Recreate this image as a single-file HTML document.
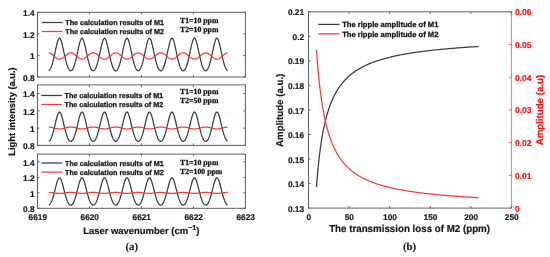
<!DOCTYPE html>
<html><head><meta charset="utf-8"><title>Figure</title>
<style>
html,body{margin:0;padding:0;background:#fff;}
body{width:550px;height:257px;overflow:hidden;}
svg{display:block;}
text{text-rendering:geometricPrecision;font-weight:bold;fill:#1a1a1a;stroke:#1a1a1a;stroke-width:0.3px;}
.s{font-family:"Liberation Sans",Arial,Helvetica,sans-serif;}
.t{stroke-width:0.2px;}
.a{stroke-width:0.2px;}
.r{font-family:"Liberation Serif","Times New Roman",serif;stroke-width:0.3px;}
.p{stroke-width:0.15px;}
</style>
</head><body>
<svg width="550" height="257" viewBox="0 0 550 257">
<rect width="550" height="257" fill="#fff"/>
<rect x="37.5" y="12.3" width="207.90" height="64.70" fill="none" stroke="#606060" stroke-width="1"/>
<line x1="37.50" y1="77.00" x2="37.50" y2="75.00" stroke="#606060" stroke-width="1"/>
<line x1="37.50" y1="12.30" x2="37.50" y2="14.30" stroke="#606060" stroke-width="1"/>
<line x1="89.47" y1="77.00" x2="89.47" y2="75.00" stroke="#606060" stroke-width="1"/>
<line x1="89.47" y1="12.30" x2="89.47" y2="14.30" stroke="#606060" stroke-width="1"/>
<line x1="141.45" y1="77.00" x2="141.45" y2="75.00" stroke="#606060" stroke-width="1"/>
<line x1="141.45" y1="12.30" x2="141.45" y2="14.30" stroke="#606060" stroke-width="1"/>
<line x1="193.43" y1="77.00" x2="193.43" y2="75.00" stroke="#606060" stroke-width="1"/>
<line x1="193.43" y1="12.30" x2="193.43" y2="14.30" stroke="#606060" stroke-width="1"/>
<line x1="245.40" y1="77.00" x2="245.40" y2="75.00" stroke="#606060" stroke-width="1"/>
<line x1="245.40" y1="12.30" x2="245.40" y2="14.30" stroke="#606060" stroke-width="1"/>
<line x1="37.50" y1="77.00" x2="39.50" y2="77.00" stroke="#606060" stroke-width="1"/>
<line x1="245.40" y1="77.00" x2="243.40" y2="77.00" stroke="#606060" stroke-width="1"/>
<text class="s t" x="34.60" y="80.80" font-size="8.3" text-anchor="end" >0.8</text>
<line x1="37.50" y1="55.43" x2="39.50" y2="55.43" stroke="#606060" stroke-width="1"/>
<line x1="245.40" y1="55.43" x2="243.40" y2="55.43" stroke="#606060" stroke-width="1"/>
<text class="s t" x="34.60" y="59.23" font-size="8.3" text-anchor="end" >1</text>
<line x1="37.50" y1="33.87" x2="39.50" y2="33.87" stroke="#606060" stroke-width="1"/>
<line x1="245.40" y1="33.87" x2="243.40" y2="33.87" stroke="#606060" stroke-width="1"/>
<text class="s t" x="34.60" y="37.67" font-size="8.3" text-anchor="end" >1.2</text>
<line x1="37.50" y1="12.30" x2="39.50" y2="12.30" stroke="#606060" stroke-width="1"/>
<line x1="245.40" y1="12.30" x2="243.40" y2="12.30" stroke="#606060" stroke-width="1"/>
<text class="s t" x="34.60" y="16.10" font-size="8.3" text-anchor="end" >1.4</text>
<rect x="37.5" y="84.9" width="207.90" height="60.50" fill="none" stroke="#606060" stroke-width="1"/>
<line x1="37.50" y1="145.40" x2="37.50" y2="143.40" stroke="#606060" stroke-width="1"/>
<line x1="37.50" y1="84.90" x2="37.50" y2="86.90" stroke="#606060" stroke-width="1"/>
<line x1="89.47" y1="145.40" x2="89.47" y2="143.40" stroke="#606060" stroke-width="1"/>
<line x1="89.47" y1="84.90" x2="89.47" y2="86.90" stroke="#606060" stroke-width="1"/>
<line x1="141.45" y1="145.40" x2="141.45" y2="143.40" stroke="#606060" stroke-width="1"/>
<line x1="141.45" y1="84.90" x2="141.45" y2="86.90" stroke="#606060" stroke-width="1"/>
<line x1="193.43" y1="145.40" x2="193.43" y2="143.40" stroke="#606060" stroke-width="1"/>
<line x1="193.43" y1="84.90" x2="193.43" y2="86.90" stroke="#606060" stroke-width="1"/>
<line x1="245.40" y1="145.40" x2="245.40" y2="143.40" stroke="#606060" stroke-width="1"/>
<line x1="245.40" y1="84.90" x2="245.40" y2="86.90" stroke="#606060" stroke-width="1"/>
<line x1="37.50" y1="145.40" x2="39.50" y2="145.40" stroke="#606060" stroke-width="1"/>
<line x1="245.40" y1="145.40" x2="243.40" y2="145.40" stroke="#606060" stroke-width="1"/>
<text class="s t" x="34.60" y="149.20" font-size="8.3" text-anchor="end" >0.8</text>
<line x1="37.50" y1="128.11" x2="39.50" y2="128.11" stroke="#606060" stroke-width="1"/>
<line x1="245.40" y1="128.11" x2="243.40" y2="128.11" stroke="#606060" stroke-width="1"/>
<text class="s t" x="34.60" y="131.91" font-size="8.3" text-anchor="end" >1</text>
<line x1="37.50" y1="110.83" x2="39.50" y2="110.83" stroke="#606060" stroke-width="1"/>
<line x1="245.40" y1="110.83" x2="243.40" y2="110.83" stroke="#606060" stroke-width="1"/>
<text class="s t" x="34.60" y="114.63" font-size="8.3" text-anchor="end" >1.2</text>
<line x1="37.50" y1="93.54" x2="39.50" y2="93.54" stroke="#606060" stroke-width="1"/>
<line x1="245.40" y1="93.54" x2="243.40" y2="93.54" stroke="#606060" stroke-width="1"/>
<text class="s t" x="34.60" y="97.34" font-size="8.3" text-anchor="end" >1.4</text>
<rect x="37.5" y="154.1" width="207.90" height="54.20" fill="none" stroke="#606060" stroke-width="1"/>
<line x1="37.50" y1="208.30" x2="37.50" y2="206.30" stroke="#606060" stroke-width="1"/>
<line x1="37.50" y1="154.10" x2="37.50" y2="156.10" stroke="#606060" stroke-width="1"/>
<line x1="89.47" y1="208.30" x2="89.47" y2="206.30" stroke="#606060" stroke-width="1"/>
<line x1="89.47" y1="154.10" x2="89.47" y2="156.10" stroke="#606060" stroke-width="1"/>
<line x1="141.45" y1="208.30" x2="141.45" y2="206.30" stroke="#606060" stroke-width="1"/>
<line x1="141.45" y1="154.10" x2="141.45" y2="156.10" stroke="#606060" stroke-width="1"/>
<line x1="193.43" y1="208.30" x2="193.43" y2="206.30" stroke="#606060" stroke-width="1"/>
<line x1="193.43" y1="154.10" x2="193.43" y2="156.10" stroke="#606060" stroke-width="1"/>
<line x1="245.40" y1="208.30" x2="245.40" y2="206.30" stroke="#606060" stroke-width="1"/>
<line x1="245.40" y1="154.10" x2="245.40" y2="156.10" stroke="#606060" stroke-width="1"/>
<line x1="37.50" y1="208.30" x2="39.50" y2="208.30" stroke="#606060" stroke-width="1"/>
<line x1="245.40" y1="208.30" x2="243.40" y2="208.30" stroke="#606060" stroke-width="1"/>
<text class="s t" x="34.60" y="212.10" font-size="8.3" text-anchor="end" >0.8</text>
<line x1="37.50" y1="192.81" x2="39.50" y2="192.81" stroke="#606060" stroke-width="1"/>
<line x1="245.40" y1="192.81" x2="243.40" y2="192.81" stroke="#606060" stroke-width="1"/>
<text class="s t" x="34.60" y="196.61" font-size="8.3" text-anchor="end" >1</text>
<line x1="37.50" y1="177.33" x2="39.50" y2="177.33" stroke="#606060" stroke-width="1"/>
<line x1="245.40" y1="177.33" x2="243.40" y2="177.33" stroke="#606060" stroke-width="1"/>
<text class="s t" x="34.60" y="181.13" font-size="8.3" text-anchor="end" >1.2</text>
<line x1="37.50" y1="161.84" x2="39.50" y2="161.84" stroke="#606060" stroke-width="1"/>
<line x1="245.40" y1="161.84" x2="243.40" y2="161.84" stroke="#606060" stroke-width="1"/>
<text class="s t" x="34.60" y="165.64" font-size="8.3" text-anchor="end" >1.4</text>
<polyline points="48.80,70.67 49.25,70.38 49.70,69.92 50.14,69.29 50.59,68.48 51.04,67.51 51.49,66.38 51.94,65.08 52.38,63.62 52.83,62.02 53.28,60.27 53.73,58.40 54.18,56.43 54.63,54.37 55.07,52.27 55.52,50.15 55.97,48.05 56.42,46.03 56.87,44.14 57.31,42.43 57.76,40.95 58.21,39.74 58.66,38.87 59.11,38.35 59.55,38.20 60.00,38.44 60.45,39.05 60.90,40.01 61.35,41.28 61.80,42.83 62.24,44.59 62.69,46.52 63.14,48.56 63.59,50.67 64.04,52.79 64.48,54.88 64.93,56.92 65.38,58.87 65.83,60.71 66.28,62.42 66.72,63.99 67.17,65.41 67.62,66.67 68.07,67.77 68.52,68.70 68.97,69.46 69.41,70.05 69.86,70.47 70.31,70.72 70.76,70.80 71.21,70.71 71.65,70.45 72.10,70.02 72.55,69.42 73.00,68.65 73.45,67.71 73.89,66.60 74.34,65.33 74.79,63.91 75.24,62.33 75.69,60.61 76.14,58.76 76.58,56.80 77.03,54.76 77.48,52.66 77.93,50.54 78.38,48.44 78.82,46.41 79.27,44.48 79.72,42.73 80.17,41.20 80.62,39.95 81.06,39.01 81.51,38.42 81.96,38.20 82.41,38.37 82.86,38.91 83.31,39.81 83.75,41.02 84.20,42.52 84.65,44.25 85.10,46.15 85.55,48.17 85.99,50.27 86.44,52.39 86.89,54.49 87.34,56.54 87.79,58.51 88.23,60.38 88.68,62.11 89.13,63.71 89.58,65.16 90.03,66.45 90.48,67.57 90.92,68.54 91.37,69.33 91.82,69.95 92.27,70.40 92.72,70.69 93.16,70.80 93.61,70.74 94.06,70.51 94.51,70.11 94.96,69.54 95.40,68.81 95.85,67.90 96.30,66.82 96.75,65.58 97.20,64.19 97.65,62.64 98.09,60.94 98.54,59.12 98.99,57.18 99.44,55.15 99.89,53.06 100.33,50.94 100.78,48.83 101.23,46.78 101.68,44.83 102.13,43.05 102.57,41.47 103.02,40.16 103.47,39.16 103.92,38.50 104.37,38.21 104.82,38.31 105.26,38.78 105.71,39.61 106.16,40.77 106.61,42.22 107.06,43.91 107.50,45.78 107.95,47.79 108.40,49.87 108.85,51.99 109.30,54.10 109.74,56.17 110.19,58.15 110.64,60.04 111.09,61.80 111.54,63.42 111.98,64.90 112.43,66.22 112.88,67.38 113.33,68.37 113.78,69.19 114.23,69.85 114.67,70.33 115.12,70.65 115.57,70.79 116.02,70.76 116.47,70.57 116.91,70.20 117.36,69.66 117.81,68.96 118.26,68.08 118.71,67.04 119.15,65.83 119.60,64.46 120.05,62.94 120.50,61.27 120.95,59.47 121.40,57.55 121.84,55.54 122.29,53.46 122.74,51.34 123.19,49.22 123.64,47.16 124.08,45.19 124.53,43.37 124.98,41.75 125.43,40.38 125.88,39.32 126.32,38.59 126.77,38.24 127.22,38.26 127.67,38.66 128.12,39.43 128.57,40.53 129.01,41.93 129.46,43.58 129.91,45.42 130.36,47.40 130.81,49.48 131.25,51.59 131.70,53.71 132.15,55.78 132.60,57.79 133.05,59.69 133.49,61.48 133.94,63.13 134.39,64.63 134.84,65.98 135.29,67.17 135.74,68.20 136.18,69.05 136.63,69.74 137.08,70.25 137.53,70.60 137.98,70.78 138.42,70.78 138.87,70.62 139.32,70.28 139.77,69.78 140.22,69.10 140.66,68.26 141.11,67.25 141.56,66.07 142.01,64.73 142.46,63.23 142.91,61.59 143.35,59.81 143.80,57.92 144.25,55.92 144.70,53.85 145.15,51.74 145.59,49.62 146.04,47.54 146.49,45.55 146.94,43.69 147.39,42.03 147.83,40.62 148.28,39.49 148.73,38.70 149.18,38.28 149.63,38.23 150.08,38.56 150.52,39.26 150.97,40.30 151.42,41.65 151.87,43.25 152.32,45.06 152.76,47.02 153.21,49.08 153.66,51.20 154.11,53.31 154.56,55.40 155.00,57.42 155.45,59.34 155.90,61.15 156.35,62.83 156.80,64.36 157.25,65.74 157.69,66.96 158.14,68.02 158.59,68.90 159.04,69.62 159.49,70.17 159.93,70.55 160.38,70.76 160.83,70.79 161.28,70.66 161.73,70.36 162.17,69.88 162.62,69.24 163.07,68.43 163.52,67.45 163.97,66.30 164.42,64.99 164.86,63.53 165.31,61.91 165.76,60.16 166.21,58.28 166.66,56.30 167.10,54.24 167.55,52.13 168.00,50.01 168.45,47.92 168.90,45.91 169.34,44.03 169.79,42.33 170.24,40.86 170.69,39.68 171.14,38.82 171.58,38.33 172.03,38.21 172.48,38.47 172.93,39.10 173.38,40.08 173.83,41.37 174.27,42.93 174.72,44.71 175.17,46.65 175.62,48.69 176.07,50.80 176.51,52.92 176.96,55.01 177.41,57.05 177.86,58.99 178.31,60.82 178.75,62.53 179.20,64.09 179.65,65.50 180.10,66.75 180.55,67.83 181.00,68.75 181.44,69.50 181.89,70.08 182.34,70.49 182.79,70.73 183.24,70.80 183.68,70.70 184.13,70.43 184.58,69.99 185.03,69.37 185.48,68.59 185.92,67.64 186.37,66.53 186.82,65.25 187.27,63.81 187.72,62.22 188.17,60.50 188.61,58.64 189.06,56.68 189.51,54.63 189.96,52.53 190.41,50.41 190.85,48.31 191.30,46.28 191.75,44.37 192.20,42.63 192.65,41.12 193.09,39.88 193.54,38.96 193.99,38.39 194.44,38.20 194.89,38.39 195.34,38.96 195.78,39.87 196.23,41.11 196.68,42.62 197.13,44.36 197.58,46.27 198.02,48.30 198.47,50.40 198.92,52.52 199.37,54.62 199.82,56.67 200.26,58.63 200.71,60.49 201.16,62.22 201.61,63.81 202.06,65.24 202.51,66.52 202.95,67.64 203.40,68.59 203.85,69.37 204.30,69.98 204.75,70.43 205.19,70.70 205.64,70.80 206.09,70.73 206.54,70.49 206.99,70.08 207.43,69.50 207.88,68.75 208.33,67.84 208.78,66.75 209.23,65.50 209.68,64.09 210.12,62.53 210.57,60.83 211.02,59.00 211.47,57.05 211.92,55.02 212.36,52.93 212.81,50.81 213.26,48.70 213.71,46.65 214.16,44.72 214.60,42.94 215.05,41.38 215.50,40.09 215.95,39.10 216.40,38.47 216.85,38.21 217.29,38.33 217.74,38.82 218.19,39.68 218.64,40.86 219.09,42.32 219.53,44.02 219.98,45.90 220.43,47.92 220.88,50.01 221.33,52.13 221.77,54.23 222.22,56.29 222.67,58.27 223.12,60.15 223.57,61.90 224.02,63.52 224.46,64.99 224.91,66.30 225.36,67.44 225.81,68.42 226.26,69.24 226.70,69.88 227.15,70.36 227.60,70.66" fill="none" stroke="#3c3c3c" stroke-width="1.25" stroke-linejoin="round"/>
<polyline points="48.80,52.84 49.25,52.92 49.70,53.06 50.14,53.24 50.59,53.46 51.04,53.72 51.49,54.02 51.94,54.35 52.38,54.70 52.83,55.08 53.28,55.47 53.73,55.87 54.18,56.27 54.63,56.66 55.07,57.05 55.52,57.42 55.97,57.77 56.42,58.09 56.87,58.37 57.31,58.62 57.76,58.83 58.21,58.99 58.66,59.11 59.11,59.18 59.55,59.20 60.00,59.17 60.45,59.09 60.90,58.96 61.35,58.78 61.80,58.56 62.24,58.31 62.69,58.01 63.14,57.68 63.59,57.33 64.04,56.96 64.48,56.57 64.93,56.17 65.38,55.77 65.83,55.37 66.28,54.99 66.72,54.61 67.17,54.27 67.62,53.94 68.07,53.65 68.52,53.40 68.97,53.19 69.41,53.02 69.86,52.90 70.31,52.82 70.76,52.80 71.21,52.83 71.65,52.90 72.10,53.03 72.55,53.20 73.00,53.41 73.45,53.67 73.89,53.96 74.34,54.28 74.79,54.64 75.24,55.01 75.69,55.40 76.14,55.79 76.58,56.19 77.03,56.59 77.48,56.98 77.93,57.35 78.38,57.70 78.82,58.03 79.27,58.32 79.72,58.58 80.17,58.79 80.62,58.97 81.06,59.09 81.51,59.17 81.96,59.20 82.41,59.18 82.86,59.11 83.31,58.99 83.75,58.82 84.20,58.61 84.65,58.36 85.10,58.07 85.55,57.75 85.99,57.40 86.44,57.03 86.89,56.64 87.34,56.24 87.79,55.84 88.23,55.45 88.68,55.06 89.13,54.68 89.58,54.33 90.03,54.00 90.48,53.70 90.92,53.44 91.37,53.22 91.82,53.05 92.27,52.92 92.72,52.83 93.16,52.80 93.61,52.82 94.06,52.88 94.51,53.00 94.96,53.16 95.40,53.37 95.85,53.62 96.30,53.90 96.75,54.22 97.20,54.57 97.65,54.94 98.09,55.32 98.54,55.72 98.99,56.12 99.44,56.52 99.89,56.91 100.33,57.28 100.78,57.64 101.23,57.97 101.68,58.27 102.13,58.53 102.57,58.76 103.02,58.94 103.47,59.07 103.92,59.16 104.37,59.20 104.82,59.19 105.26,59.12 105.71,59.01 106.16,58.85 106.61,58.65 107.06,58.41 107.50,58.12 107.95,57.81 108.40,57.47 108.85,57.10 109.30,56.71 109.74,56.32 110.19,55.92 110.64,55.52 111.09,55.13 111.54,54.75 111.98,54.39 112.43,54.06 112.88,53.76 113.33,53.49 113.78,53.26 114.23,53.08 114.67,52.94 115.12,52.85 115.57,52.80 116.02,52.81 116.47,52.87 116.91,52.98 117.36,53.13 117.81,53.33 118.26,53.57 118.71,53.85 119.15,54.16 119.60,54.50 120.05,54.87 120.50,55.25 120.95,55.64 121.40,56.04 121.84,56.44 122.29,56.83 122.74,57.21 123.19,57.57 123.64,57.91 124.08,58.22 124.53,58.49 124.98,58.72 125.43,58.91 125.88,59.05 126.32,59.15 126.77,59.20 127.22,59.19 127.67,59.14 128.12,59.04 128.57,58.89 129.01,58.69 129.46,58.46 129.91,58.18 130.36,57.87 130.81,57.53 131.25,57.17 131.70,56.79 132.15,56.39 132.60,55.99 133.05,55.60 133.49,55.20 133.94,54.82 134.39,54.46 134.84,54.12 135.29,53.81 135.74,53.54 136.18,53.30 136.63,53.11 137.08,52.96 137.53,52.86 137.98,52.81 138.42,52.81 138.87,52.85 139.32,52.95 139.77,53.10 140.22,53.29 140.66,53.52 141.11,53.79 141.56,54.10 142.01,54.44 142.46,54.80 142.91,55.18 143.35,55.57 143.80,55.97 144.25,56.37 144.70,56.76 145.15,57.14 145.59,57.51 146.04,57.85 146.49,58.16 146.94,58.44 147.39,58.68 147.83,58.88 148.28,59.03 148.73,59.13 149.18,59.19 149.63,59.20 150.08,59.15 150.52,59.06 150.97,58.92 151.42,58.73 151.87,58.50 152.32,58.23 152.76,57.93 153.21,57.60 153.66,57.24 154.11,56.86 154.56,56.47 155.00,56.07 155.45,55.67 155.90,55.27 156.35,54.89 156.80,54.53 157.25,54.18 157.69,53.87 158.14,53.59 158.59,53.34 159.04,53.14 159.49,52.98 159.93,52.87 160.38,52.81 160.83,52.80 161.28,52.84 161.73,52.93 162.17,53.07 162.62,53.25 163.07,53.47 163.52,53.74 163.97,54.04 164.42,54.37 164.86,54.73 165.31,55.10 165.76,55.49 166.21,55.89 166.66,56.29 167.10,56.69 167.55,57.07 168.00,57.44 168.45,57.79 168.90,58.10 169.34,58.39 169.79,58.64 170.24,58.84 170.69,59.00 171.14,59.12 171.58,59.18 172.03,59.20 172.48,59.16 172.93,59.08 173.38,58.95 173.83,58.77 174.27,58.55 174.72,58.29 175.17,57.99 175.62,57.66 176.07,57.31 176.51,56.93 176.96,56.54 177.41,56.14 177.86,55.74 178.31,55.35 178.75,54.96 179.20,54.59 179.65,54.24 180.10,53.92 180.55,53.64 181.00,53.39 181.44,53.18 181.89,53.01 182.34,52.89 182.79,52.82 183.24,52.80 183.68,52.83 184.13,52.91 184.58,53.04 185.03,53.21 185.48,53.43 185.92,53.69 186.37,53.98 186.82,54.31 187.27,54.66 187.72,55.03 188.17,55.42 188.61,55.82 189.06,56.22 189.51,56.62 189.96,57.00 190.41,57.37 190.85,57.72 191.30,58.05 191.75,58.34 192.20,58.59 192.65,58.81 193.09,58.98 193.54,59.10 193.99,59.17 194.44,59.20 194.89,59.18 195.34,59.10 195.78,58.98 196.23,58.81 196.68,58.59 197.13,58.34 197.58,58.05 198.02,57.73 198.47,57.38 198.92,57.00 199.37,56.62 199.82,56.22 200.26,55.82 200.71,55.42 201.16,55.03 201.61,54.66 202.06,54.31 202.51,53.98 202.95,53.69 203.40,53.43 203.85,53.21 204.30,53.04 204.75,52.91 205.19,52.83 205.64,52.80 206.09,52.82 206.54,52.89 206.99,53.01 207.43,53.17 207.88,53.38 208.33,53.64 208.78,53.92 209.23,54.24 209.68,54.59 210.12,54.96 210.57,55.35 211.02,55.74 211.47,56.14 211.92,56.54 212.36,56.93 212.81,57.31 213.26,57.66 213.71,57.99 214.16,58.29 214.60,58.55 215.05,58.77 215.50,58.95 215.95,59.08 216.40,59.16 216.85,59.20 217.29,59.18 217.74,59.12 218.19,59.00 218.64,58.84 219.09,58.64 219.53,58.39 219.98,58.11 220.43,57.79 220.88,57.44 221.33,57.07 221.77,56.69 222.22,56.29 222.67,55.89 223.12,55.50 223.57,55.11 224.02,54.73 224.46,54.37 224.91,54.04 225.36,53.74 225.81,53.47 226.26,53.25 226.70,53.07 227.15,52.93 227.60,52.84" fill="none" stroke="#f33b3b" stroke-width="1.25" stroke-linejoin="round"/>
<polyline points="48.80,141.29 49.25,141.02 49.70,140.61 50.14,140.04 50.59,139.31 51.04,138.44 51.49,137.41 51.94,136.24 52.38,134.93 52.83,133.48 53.28,131.90 53.73,130.22 54.18,128.44 54.63,126.59 55.07,124.69 55.52,122.77 55.97,120.89 56.42,119.07 56.87,117.36 57.31,115.81 57.76,114.48 58.21,113.39 58.66,112.60 59.11,112.13 59.55,112.00 60.00,112.22 60.45,112.77 60.90,113.63 61.35,114.78 61.80,116.17 62.24,117.76 62.69,119.50 63.14,121.34 63.59,123.24 64.04,125.15 64.48,127.04 64.93,128.88 65.38,130.64 65.83,132.30 66.28,133.85 66.72,135.26 67.17,136.54 67.62,137.68 68.07,138.67 68.52,139.50 68.97,140.19 69.41,140.72 69.86,141.10 70.31,141.33 70.76,141.40 71.21,141.32 71.65,141.08 72.10,140.70 72.55,140.15 73.00,139.46 73.45,138.61 73.89,137.62 74.34,136.47 74.79,135.18 75.24,133.76 75.69,132.21 76.14,130.54 76.58,128.78 77.03,126.94 77.48,125.04 77.93,123.13 78.38,121.24 78.82,119.40 79.27,117.67 79.72,116.09 80.17,114.71 80.62,113.57 81.06,112.73 81.51,112.20 81.96,112.00 82.41,112.15 82.86,112.64 83.31,113.45 83.75,114.55 84.20,115.90 84.65,117.45 85.10,119.17 85.55,120.99 85.99,122.88 86.44,124.80 86.89,126.69 87.34,128.54 87.79,130.32 88.23,132.00 88.68,133.57 89.13,135.01 89.58,136.31 90.03,137.48 90.48,138.49 90.92,139.36 91.37,140.07 91.82,140.63 92.27,141.04 92.72,141.30 93.16,141.40 93.61,141.35 94.06,141.14 94.51,140.78 94.96,140.27 95.40,139.60 95.85,138.78 96.30,137.81 96.75,136.70 97.20,135.44 97.65,134.04 98.09,132.51 98.54,130.86 98.99,129.12 99.44,127.29 99.89,125.40 100.33,123.49 100.78,121.59 101.23,119.74 101.68,117.98 102.13,116.37 102.57,114.95 103.02,113.77 103.47,112.86 103.92,112.27 104.37,112.01 104.82,112.10 105.26,112.52 105.71,113.27 106.16,114.32 106.61,115.63 107.06,117.15 107.50,118.84 107.95,120.65 108.40,122.53 108.85,124.44 109.30,126.34 109.74,128.20 110.19,129.99 110.64,131.69 111.09,133.28 111.54,134.75 111.98,136.08 112.43,137.27 112.88,138.31 113.33,139.21 113.78,139.95 114.23,140.54 114.67,140.98 115.12,141.26 115.57,141.39 116.02,141.37 116.47,141.19 116.91,140.86 117.36,140.37 117.81,139.74 118.26,138.95 118.71,138.01 119.15,136.92 119.60,135.68 120.05,134.31 120.50,132.80 120.95,131.18 121.40,129.45 121.84,127.63 122.29,125.76 122.74,123.85 123.19,121.94 123.64,120.08 124.08,118.30 124.53,116.66 124.98,115.20 125.43,113.97 125.88,113.01 126.32,112.36 126.77,112.03 127.22,112.05 127.67,112.42 128.12,113.11 128.57,114.10 129.01,115.36 129.46,116.85 129.91,118.51 130.36,120.30 130.81,122.17 131.25,124.08 131.70,125.99 132.15,127.86 132.60,129.66 133.05,131.38 133.49,132.99 133.94,134.48 134.39,135.84 134.84,137.06 135.29,138.13 135.74,139.05 136.18,139.82 136.63,140.44 137.08,140.91 137.53,141.22 137.98,141.38 138.42,141.38 138.87,141.23 139.32,140.93 139.77,140.48 140.22,139.87 140.66,139.11 141.11,138.19 141.56,137.13 142.01,135.92 142.46,134.58 142.91,133.10 143.35,131.49 143.80,129.78 144.25,127.98 144.70,126.11 145.15,124.21 145.59,122.30 146.04,120.42 146.49,118.63 146.94,116.95 147.39,115.46 147.83,114.18 148.28,113.17 148.73,112.45 149.18,112.07 149.63,112.02 150.08,112.32 150.52,112.96 150.97,113.90 151.42,115.11 151.87,116.55 152.32,118.19 152.76,119.96 153.21,121.82 153.66,123.72 154.11,125.63 154.56,127.51 155.00,129.33 155.45,131.07 155.90,132.70 156.35,134.21 156.80,135.60 157.25,136.84 157.69,137.94 158.14,138.89 158.59,139.69 159.04,140.34 159.49,140.83 159.93,141.17 160.38,141.36 160.83,141.39 161.28,141.27 161.73,141.00 162.17,140.57 162.62,139.99 163.07,139.26 163.52,138.38 163.97,137.34 164.42,136.16 164.86,134.84 165.31,133.38 165.76,131.80 166.21,130.11 166.66,128.32 167.10,126.47 167.55,124.57 168.00,122.65 168.45,120.77 168.90,118.95 169.34,117.26 169.79,115.72 170.24,114.40 170.69,113.33 171.14,112.56 171.58,112.11 172.03,112.01 172.48,112.24 172.93,112.81 173.38,113.70 173.83,114.86 174.27,116.27 174.72,117.87 175.17,119.62 175.62,121.46 176.07,123.36 176.51,125.27 176.96,127.16 177.41,129.00 177.86,130.75 178.31,132.40 178.75,133.94 179.20,135.35 179.65,136.62 180.10,137.74 180.55,138.72 181.00,139.55 181.44,140.23 181.89,140.75 182.34,141.12 182.79,141.34 183.24,141.40 183.68,141.31 184.13,141.06 184.58,140.67 185.03,140.11 185.48,139.41 185.92,138.55 186.37,137.55 186.82,136.39 187.27,135.10 187.72,133.67 188.17,132.11 188.61,130.43 189.06,128.66 189.51,126.82 189.96,124.92 190.41,123.01 190.85,121.12 191.30,119.29 191.75,117.56 192.20,115.99 192.65,114.63 193.09,113.51 193.54,112.68 193.99,112.17 194.44,112.00 194.89,112.17 195.34,112.68 195.78,113.51 196.23,114.62 196.68,115.99 197.13,117.56 197.58,119.28 198.02,121.11 198.47,123.00 198.92,124.92 199.37,126.81 199.82,128.66 200.26,130.43 200.71,132.10 201.16,133.66 201.61,135.09 202.06,136.39 202.51,137.54 202.95,138.55 203.40,139.41 203.85,140.11 204.30,140.66 204.75,141.06 205.19,141.31 205.64,141.40 206.09,141.34 206.54,141.12 206.99,140.75 207.43,140.23 207.88,139.55 208.33,138.73 208.78,137.75 209.23,136.62 209.68,135.35 210.12,133.94 210.57,132.41 211.02,130.76 211.47,129.00 211.92,127.17 212.36,125.28 212.81,123.37 213.26,121.47 213.71,119.62 214.16,117.88 214.60,116.27 215.05,114.87 215.50,113.70 215.95,112.82 216.40,112.24 216.85,112.01 217.29,112.11 217.74,112.56 218.19,113.33 218.64,114.40 219.09,115.72 219.53,117.25 219.98,118.95 220.43,120.76 220.88,122.65 221.33,124.56 221.77,126.46 222.22,128.32 222.67,130.10 223.12,131.80 223.57,133.38 224.02,134.83 224.46,136.16 224.91,137.34 225.36,138.37 225.81,139.26 226.26,139.99 226.70,140.57 227.15,141.00 227.60,141.27" fill="none" stroke="#3c3c3c" stroke-width="1.25" stroke-linejoin="round"/>
<polyline points="48.80,127.01 49.25,127.04 49.70,127.08 50.14,127.14 50.59,127.21 51.04,127.29 51.49,127.38 51.94,127.48 52.38,127.59 52.83,127.71 53.28,127.83 53.73,127.96 54.18,128.08 54.63,128.21 55.07,128.33 55.52,128.44 55.97,128.55 56.42,128.65 56.87,128.74 57.31,128.82 57.76,128.88 58.21,128.94 58.66,128.97 59.11,128.99 59.55,129.00 60.00,128.99 60.45,128.96 60.90,128.92 61.35,128.87 61.80,128.80 62.24,128.72 62.69,128.63 63.14,128.53 63.59,128.42 64.04,128.30 64.48,128.18 64.93,128.05 65.38,127.93 65.83,127.80 66.28,127.68 66.72,127.57 67.17,127.46 67.62,127.36 68.07,127.27 68.52,127.19 68.97,127.12 69.41,127.07 69.86,127.03 70.31,127.01 70.76,127.00 71.21,127.01 71.65,127.03 72.10,127.07 72.55,127.12 73.00,127.19 73.45,127.27 73.89,127.36 74.34,127.46 74.79,127.57 75.24,127.69 75.69,127.81 76.14,127.94 76.58,128.06 77.03,128.18 77.48,128.31 77.93,128.42 78.38,128.53 78.82,128.63 79.27,128.73 79.72,128.81 80.17,128.87 80.62,128.93 81.06,128.97 81.51,128.99 81.96,129.00 82.41,128.99 82.86,128.97 83.31,128.93 83.75,128.88 84.20,128.82 84.65,128.74 85.10,128.65 85.55,128.55 85.99,128.44 86.44,128.32 86.89,128.20 87.34,128.08 87.79,127.95 88.23,127.83 88.68,127.71 89.13,127.59 89.58,127.48 90.03,127.38 90.48,127.28 90.92,127.20 91.37,127.13 91.82,127.08 92.27,127.04 92.72,127.01 93.16,127.00 93.61,127.01 94.06,127.03 94.51,127.06 94.96,127.11 95.40,127.18 95.85,127.26 96.30,127.34 96.75,127.44 97.20,127.55 97.65,127.67 98.09,127.79 98.54,127.91 98.99,128.04 99.44,128.16 99.89,128.28 100.33,128.40 100.78,128.51 101.23,128.62 101.68,128.71 102.13,128.79 102.57,128.86 103.02,128.92 103.47,128.96 103.92,128.99 104.37,129.00 104.82,129.00 105.26,128.98 105.71,128.94 106.16,128.89 106.61,128.83 107.06,128.75 107.50,128.66 107.95,128.57 108.40,128.46 108.85,128.34 109.30,128.22 109.74,128.10 110.19,127.97 110.64,127.85 111.09,127.73 111.54,127.61 111.98,127.50 112.43,127.39 112.88,127.30 113.33,127.22 113.78,127.14 114.23,127.09 114.67,127.04 115.12,127.01 115.57,127.00 116.02,127.00 116.47,127.02 116.91,127.05 117.36,127.10 117.81,127.16 118.26,127.24 118.71,127.33 119.15,127.43 119.60,127.53 120.05,127.65 120.50,127.77 120.95,127.89 121.40,128.01 121.84,128.14 122.29,128.26 122.74,128.38 123.19,128.49 123.64,128.60 124.08,128.69 124.53,128.78 124.98,128.85 125.43,128.91 125.88,128.95 126.32,128.98 126.77,129.00 127.22,129.00 127.67,128.98 128.12,128.95 128.57,128.90 129.01,128.84 129.46,128.77 129.91,128.68 130.36,128.58 130.81,128.48 131.25,128.37 131.70,128.25 132.15,128.12 132.60,128.00 133.05,127.87 133.49,127.75 133.94,127.63 134.39,127.52 134.84,127.41 135.29,127.32 135.74,127.23 136.18,127.16 136.63,127.10 137.08,127.05 137.53,127.02 137.98,127.00 138.42,127.00 138.87,127.02 139.32,127.05 139.77,127.09 140.22,127.15 140.66,127.23 141.11,127.31 141.56,127.41 142.01,127.51 142.46,127.62 142.91,127.74 143.35,127.87 143.80,127.99 144.25,128.11 144.70,128.24 145.15,128.36 145.59,128.47 146.04,128.58 146.49,128.68 146.94,128.76 147.39,128.84 147.83,128.90 148.28,128.95 148.73,128.98 149.18,129.00 149.63,129.00 150.08,128.99 150.52,128.96 150.97,128.91 151.42,128.85 151.87,128.78 152.32,128.70 152.76,128.60 153.21,128.50 153.66,128.39 154.11,128.27 154.56,128.15 155.00,128.02 155.45,127.90 155.90,127.77 156.35,127.65 156.80,127.54 157.25,127.43 157.69,127.33 158.14,127.25 158.59,127.17 159.04,127.11 159.49,127.06 159.93,127.02 160.38,127.00 160.83,127.00 161.28,127.01 161.73,127.04 162.17,127.08 162.62,127.14 163.07,127.21 163.52,127.29 163.97,127.39 164.42,127.49 164.86,127.60 165.31,127.72 165.76,127.84 166.21,127.97 166.66,128.09 167.10,128.22 167.55,128.34 168.00,128.45 168.45,128.56 168.90,128.66 169.34,128.75 169.79,128.82 170.24,128.89 170.69,128.94 171.14,128.97 171.58,128.99 172.03,129.00 172.48,128.99 172.93,128.96 173.38,128.92 173.83,128.87 174.27,128.80 174.72,128.71 175.17,128.62 175.62,128.52 176.07,128.41 176.51,128.29 176.96,128.17 177.41,128.05 177.86,127.92 178.31,127.80 178.75,127.68 179.20,127.56 179.65,127.45 180.10,127.35 180.55,127.26 181.00,127.18 181.44,127.12 181.89,127.07 182.34,127.03 182.79,127.01 183.24,127.00 183.68,127.01 184.13,127.03 184.58,127.07 185.03,127.13 185.48,127.20 185.92,127.28 186.37,127.37 186.82,127.47 187.27,127.58 187.72,127.70 188.17,127.82 188.61,127.94 189.06,128.07 189.51,128.19 189.96,128.31 190.41,128.43 190.85,128.54 191.30,128.64 191.75,128.73 192.20,128.81 192.65,128.88 193.09,128.93 193.54,128.97 193.99,128.99 194.44,129.00 194.89,128.99 195.34,128.97 195.78,128.93 196.23,128.88 196.68,128.81 197.13,128.73 197.58,128.64 198.02,128.54 198.47,128.43 198.92,128.31 199.37,128.19 199.82,128.07 200.26,127.94 200.71,127.82 201.16,127.70 201.61,127.58 202.06,127.47 202.51,127.37 202.95,127.28 203.40,127.20 203.85,127.13 204.30,127.07 204.75,127.03 205.19,127.01 205.64,127.00 206.09,127.01 206.54,127.03 206.99,127.07 207.43,127.12 207.88,127.18 208.33,127.26 208.78,127.35 209.23,127.45 209.68,127.56 210.12,127.68 210.57,127.80 211.02,127.92 211.47,128.04 211.92,128.17 212.36,128.29 212.81,128.41 213.26,128.52 213.71,128.62 214.16,128.71 214.60,128.80 215.05,128.87 215.50,128.92 215.95,128.96 216.40,128.99 216.85,129.00 217.29,128.99 217.74,128.97 218.19,128.94 218.64,128.89 219.09,128.82 219.53,128.75 219.98,128.66 220.43,128.56 220.88,128.45 221.33,128.34 221.77,128.22 222.22,128.09 222.67,127.97 223.12,127.84 223.57,127.72 224.02,127.60 224.46,127.49 224.91,127.39 225.36,127.29 225.81,127.21 226.26,127.14 226.70,127.08 227.15,127.04 227.60,127.01" fill="none" stroke="#f33b3b" stroke-width="1.25" stroke-linejoin="round"/>
<polyline points="48.80,205.09 49.25,204.85 49.70,204.46 50.14,203.93 50.59,203.25 51.04,202.44 51.49,201.48 51.94,200.39 52.38,199.17 52.83,197.82 53.28,196.35 53.73,194.78 54.18,193.12 54.63,191.39 55.07,189.62 55.52,187.84 55.97,186.08 56.42,184.38 56.87,182.79 57.31,181.35 57.76,180.11 58.21,179.10 58.66,178.36 59.11,177.92 59.55,177.80 60.00,178.00 60.45,178.51 60.90,179.32 61.35,180.39 61.80,181.69 62.24,183.17 62.69,184.79 63.14,186.51 63.59,188.28 64.04,190.06 64.48,191.82 64.93,193.53 65.38,195.17 65.83,196.72 66.28,198.16 66.72,199.48 67.17,200.67 67.62,201.73 68.07,202.65 68.52,203.43 68.97,204.07 69.41,204.57 69.86,204.92 70.31,205.13 70.76,205.20 71.21,205.12 71.65,204.91 72.10,204.54 72.55,204.04 73.00,203.39 73.45,202.60 73.89,201.67 74.34,200.61 74.79,199.41 75.24,198.08 75.69,196.63 76.14,195.08 76.58,193.44 77.03,191.72 77.48,189.96 77.93,188.17 78.38,186.41 78.82,184.70 79.27,183.08 79.72,181.61 80.17,180.32 80.62,179.27 81.06,178.48 81.51,177.98 81.96,177.80 82.41,177.94 82.86,178.40 83.31,179.15 83.75,180.17 84.20,181.43 84.65,182.88 85.10,184.48 85.55,186.18 85.99,187.94 86.44,189.73 86.89,191.49 87.34,193.22 87.79,194.87 88.23,196.44 88.68,197.90 89.13,199.24 89.58,200.46 90.03,201.54 90.48,202.49 90.92,203.30 91.37,203.96 91.82,204.49 92.27,204.87 92.72,205.10 93.16,205.20 93.61,205.15 94.06,204.96 94.51,204.62 94.96,204.14 95.40,203.52 95.85,202.76 96.30,201.86 96.75,200.82 97.20,199.64 97.65,198.34 98.09,196.91 98.54,195.38 98.99,193.75 99.44,192.05 99.89,190.29 100.33,188.51 100.78,186.74 101.23,185.01 101.68,183.38 102.13,181.87 102.57,180.55 103.02,179.45 103.47,178.60 103.92,178.05 104.37,177.81 104.82,177.89 105.26,178.29 105.71,178.99 106.16,179.96 106.61,181.18 107.06,182.60 107.50,184.17 107.95,185.86 108.40,187.61 108.85,189.39 109.30,191.17 109.74,192.90 110.19,194.57 110.64,196.15 111.09,197.63 111.54,199.00 111.98,200.24 112.43,201.35 112.88,202.32 113.33,203.16 113.78,203.85 114.23,204.40 114.67,204.81 115.12,205.07 115.57,205.19 116.02,205.17 116.47,205.00 116.91,204.70 117.36,204.24 117.81,203.65 118.26,202.91 118.71,202.04 119.15,201.02 119.60,199.87 120.05,198.59 120.50,197.19 120.95,195.68 121.40,194.06 121.84,192.37 122.29,190.62 122.74,188.84 123.19,187.07 123.64,185.33 124.08,183.67 124.53,182.14 124.98,180.78 125.43,179.63 125.88,178.74 126.32,178.13 126.77,177.83 127.22,177.85 127.67,178.19 128.12,178.83 128.57,179.76 129.01,180.93 129.46,182.32 129.91,183.87 130.36,185.53 130.81,187.28 131.25,189.06 131.70,190.83 132.15,192.58 132.60,194.26 133.05,195.86 133.49,197.36 133.94,198.75 134.39,200.02 134.84,201.15 135.29,202.15 135.74,203.01 136.18,203.73 136.63,204.31 137.08,204.74 137.53,205.03 137.98,205.18 138.42,205.18 138.87,205.05 139.32,204.76 139.77,204.34 140.22,203.77 140.66,203.06 141.11,202.21 141.56,201.22 142.01,200.10 142.46,198.84 142.91,197.46 143.35,195.97 143.80,194.37 144.25,192.69 144.70,190.95 145.15,189.18 145.59,187.40 146.04,185.65 146.49,183.97 146.94,182.42 147.39,181.02 147.83,179.83 148.28,178.89 148.73,178.22 149.18,177.86 149.63,177.82 150.08,178.10 150.52,178.69 150.97,179.57 151.42,180.70 151.87,182.05 152.32,183.57 152.76,185.21 153.21,186.95 153.66,188.72 154.11,190.50 154.56,192.26 155.00,193.95 155.45,195.57 155.90,197.09 156.35,198.50 156.80,199.79 157.25,200.95 157.69,201.97 158.14,202.86 158.59,203.61 159.04,204.21 159.49,204.67 159.93,204.99 160.38,205.16 160.83,205.19 161.28,205.08 161.73,204.83 162.17,204.43 162.62,203.89 163.07,203.21 163.52,202.38 163.97,201.42 164.42,200.32 164.86,199.09 165.31,197.73 165.76,196.25 166.21,194.68 166.66,193.01 167.10,191.28 167.55,189.51 168.00,187.73 168.45,185.97 168.90,184.28 169.34,182.70 169.79,181.27 170.24,180.04 170.69,179.04 171.14,178.32 171.58,177.91 172.03,177.81 172.48,178.03 172.93,178.56 173.38,179.38 173.83,180.47 174.27,181.78 174.72,183.27 175.17,184.90 175.62,186.62 176.07,188.39 176.51,190.17 176.96,191.93 177.41,193.64 177.86,195.27 178.31,196.81 178.75,198.25 179.20,199.56 179.65,200.74 180.10,201.79 180.55,202.70 181.00,203.48 181.44,204.11 181.89,204.59 182.34,204.94 182.79,205.14 183.24,205.20 183.68,205.11 184.13,204.89 184.58,204.52 185.03,204.00 185.48,203.35 185.92,202.55 186.37,201.61 186.82,200.53 187.27,199.33 187.72,197.99 188.17,196.54 188.61,194.98 189.06,193.33 189.51,191.61 189.96,189.84 190.41,188.06 190.85,186.30 191.30,184.59 191.75,182.98 192.20,181.52 192.65,180.25 193.09,179.21 193.54,178.44 193.99,177.96 194.44,177.80 194.89,177.96 195.34,178.43 195.78,179.21 196.23,180.25 196.68,181.52 197.13,182.98 197.58,184.58 198.02,186.29 198.47,188.06 198.92,189.84 199.37,191.60 199.82,193.32 200.26,194.97 200.71,196.53 201.16,197.99 201.61,199.32 202.06,200.53 202.51,201.61 202.95,202.54 203.40,203.34 203.85,204.00 204.30,204.51 204.75,204.89 205.19,205.11 205.64,205.20 206.09,205.14 206.54,204.94 206.99,204.60 207.43,204.11 207.88,203.48 208.33,202.71 208.78,201.80 209.23,200.75 209.68,199.56 210.12,198.25 210.57,196.82 211.02,195.28 211.47,193.65 211.92,191.94 212.36,190.18 212.81,188.40 213.26,186.63 213.71,184.90 214.16,183.28 214.60,181.78 215.05,180.47 215.50,179.39 215.95,178.56 216.40,178.03 216.85,177.81 217.29,177.91 217.74,178.32 218.19,179.04 218.64,180.03 219.09,181.26 219.53,182.69 219.98,184.27 220.43,185.97 220.88,187.72 221.33,189.50 221.77,191.28 222.22,193.01 222.67,194.67 223.12,196.25 223.57,197.72 224.02,199.08 224.46,200.31 224.91,201.41 225.36,202.38 225.81,203.20 226.26,203.89 226.70,204.43 227.15,204.83 227.60,205.08" fill="none" stroke="#3c3c3c" stroke-width="1.25" stroke-linejoin="round"/>
<polyline points="48.80,192.41 49.25,192.42 49.70,192.44 50.14,192.47 50.59,192.50 51.04,192.54 51.49,192.59 51.94,192.64 52.38,192.70 52.83,192.76 53.28,192.82 53.73,192.88 54.18,192.94 54.63,193.00 55.07,193.06 55.52,193.12 55.97,193.18 56.42,193.23 56.87,193.27 57.31,193.31 57.76,193.34 58.21,193.37 58.66,193.39 59.11,193.40 59.55,193.40 60.00,193.40 60.45,193.38 60.90,193.36 61.35,193.33 61.80,193.30 62.24,193.26 62.69,193.21 63.14,193.16 63.59,193.11 64.04,193.05 64.48,192.99 64.93,192.93 65.38,192.86 65.83,192.80 66.28,192.74 66.72,192.68 67.17,192.63 67.62,192.58 68.07,192.53 68.52,192.49 68.97,192.46 69.41,192.43 69.86,192.42 70.31,192.40 70.76,192.40 71.21,192.40 71.65,192.42 72.10,192.44 72.55,192.46 73.00,192.50 73.45,192.54 73.89,192.58 74.34,192.63 74.79,192.69 75.24,192.74 75.69,192.81 76.14,192.87 76.58,192.93 77.03,192.99 77.48,193.05 77.93,193.11 78.38,193.17 78.82,193.22 79.27,193.26 79.72,193.30 80.17,193.34 80.62,193.36 81.06,193.38 81.51,193.40 81.96,193.40 82.41,193.40 82.86,193.39 83.31,193.37 83.75,193.34 84.20,193.31 84.65,193.27 85.10,193.22 85.55,193.17 85.99,193.12 86.44,193.06 86.89,193.00 87.34,192.94 87.79,192.88 88.23,192.81 88.68,192.75 89.13,192.69 89.58,192.64 90.03,192.59 90.48,192.54 90.92,192.50 91.37,192.47 91.82,192.44 92.27,192.42 92.72,192.41 93.16,192.40 93.61,192.40 94.06,192.41 94.51,192.43 94.96,192.46 95.40,192.49 95.85,192.53 96.30,192.57 96.75,192.62 97.20,192.68 97.65,192.73 98.09,192.79 98.54,192.86 98.99,192.92 99.44,192.98 99.89,193.04 100.33,193.10 100.78,193.16 101.23,193.21 101.68,193.25 102.13,193.30 102.57,193.33 103.02,193.36 103.47,193.38 103.92,193.39 104.37,193.40 104.82,193.40 105.26,193.39 105.71,193.37 106.16,193.35 106.61,193.31 107.06,193.28 107.50,193.23 107.95,193.18 108.40,193.13 108.85,193.07 109.30,193.01 109.74,192.95 110.19,192.89 110.64,192.83 111.09,192.76 111.54,192.70 111.98,192.65 112.43,192.60 112.88,192.55 113.33,192.51 113.78,192.47 114.23,192.44 114.67,192.42 115.12,192.41 115.57,192.40 116.02,192.40 116.47,192.41 116.91,192.43 117.36,192.45 117.81,192.48 118.26,192.52 118.71,192.56 119.15,192.61 119.60,192.67 120.05,192.72 120.50,192.78 120.95,192.84 121.40,192.91 121.84,192.97 122.29,193.03 122.74,193.09 123.19,193.15 123.64,193.20 124.08,193.25 124.53,193.29 124.98,193.32 125.43,193.35 125.88,193.38 126.32,193.39 126.77,193.40 127.22,193.40 127.67,193.39 128.12,193.37 128.57,193.35 129.01,193.32 129.46,193.28 129.91,193.24 130.36,193.19 130.81,193.14 131.25,193.08 131.70,193.02 132.15,192.96 132.60,192.90 133.05,192.84 133.49,192.78 133.94,192.72 134.39,192.66 134.84,192.61 135.29,192.56 135.74,192.52 136.18,192.48 136.63,192.45 137.08,192.42 137.53,192.41 137.98,192.40 138.42,192.40 138.87,192.41 139.32,192.42 139.77,192.45 140.22,192.48 140.66,192.51 141.11,192.56 141.56,192.60 142.01,192.66 142.46,192.71 142.91,192.77 143.35,192.83 143.80,192.89 144.25,192.96 144.70,193.02 145.15,193.08 145.59,193.14 146.04,193.19 146.49,193.24 146.94,193.28 147.39,193.32 147.83,193.35 148.28,193.37 148.73,193.39 149.18,193.40 149.63,193.40 150.08,193.39 150.52,193.38 150.97,193.36 151.42,193.33 151.87,193.29 152.32,193.25 152.76,193.20 153.21,193.15 153.66,193.09 154.11,193.03 154.56,192.97 155.00,192.91 155.45,192.85 155.90,192.79 156.35,192.73 156.80,192.67 157.25,192.62 157.69,192.57 158.14,192.52 158.59,192.48 159.04,192.45 159.49,192.43 159.93,192.41 160.38,192.40 160.83,192.40 161.28,192.41 161.73,192.42 162.17,192.44 162.62,192.47 163.07,192.51 163.52,192.55 163.97,192.59 164.42,192.65 164.86,192.70 165.31,192.76 165.76,192.82 166.21,192.88 166.66,192.95 167.10,193.01 167.55,193.07 168.00,193.13 168.45,193.18 168.90,193.23 169.34,193.27 169.79,193.31 170.24,193.34 170.69,193.37 171.14,193.39 171.58,193.40 172.03,193.40 172.48,193.39 172.93,193.38 173.38,193.36 173.83,193.33 174.27,193.30 174.72,193.26 175.17,193.21 175.62,193.16 176.07,193.10 176.51,193.05 176.96,192.98 177.41,192.92 177.86,192.86 178.31,192.80 178.75,192.74 179.20,192.68 179.65,192.63 180.10,192.58 180.55,192.53 181.00,192.49 181.44,192.46 181.89,192.43 182.34,192.41 182.79,192.40 183.24,192.40 183.68,192.40 184.13,192.42 184.58,192.44 185.03,192.46 185.48,192.50 185.92,192.54 186.37,192.58 186.82,192.64 187.27,192.69 187.72,192.75 188.17,192.81 188.61,192.87 189.06,192.93 189.51,193.00 189.96,193.06 190.41,193.11 190.85,193.17 191.30,193.22 191.75,193.27 192.20,193.31 192.65,193.34 193.09,193.37 193.54,193.38 193.99,193.40 194.44,193.40 194.89,193.40 195.34,193.38 195.78,193.37 196.23,193.34 196.68,193.31 197.13,193.27 197.58,193.22 198.02,193.17 198.47,193.11 198.92,193.06 199.37,193.00 199.82,192.93 200.26,192.87 200.71,192.81 201.16,192.75 201.61,192.69 202.06,192.64 202.51,192.58 202.95,192.54 203.40,192.50 203.85,192.46 204.30,192.44 204.75,192.42 205.19,192.40 205.64,192.40 206.09,192.40 206.54,192.41 206.99,192.43 207.43,192.46 207.88,192.49 208.33,192.53 208.78,192.58 209.23,192.63 209.68,192.68 210.12,192.74 210.57,192.80 211.02,192.86 211.47,192.92 211.92,192.98 212.36,193.05 212.81,193.10 213.26,193.16 213.71,193.21 214.16,193.26 214.60,193.30 215.05,193.33 215.50,193.36 215.95,193.38 216.40,193.39 216.85,193.40 217.29,193.40 217.74,193.39 218.19,193.37 218.64,193.34 219.09,193.31 219.53,193.27 219.98,193.23 220.43,193.18 220.88,193.13 221.33,193.07 221.77,193.01 222.22,192.95 222.67,192.88 223.12,192.82 223.57,192.76 224.02,192.70 224.46,192.65 224.91,192.59 225.36,192.55 225.81,192.51 226.26,192.47 226.70,192.44 227.15,192.42 227.60,192.41" fill="none" stroke="#f33b3b" stroke-width="1.25" stroke-linejoin="round"/>
<line x1="42.00" y1="22.50" x2="62.50" y2="22.50" stroke="#3c3c3c" stroke-width="1.25"/>
<line x1="42.00" y1="31.50" x2="62.50" y2="31.50" stroke="#f33b3b" stroke-width="1.25"/>
<text class="s" x="65.30" y="25.10" font-size="7.2" text-anchor="start" >The calculation results of M1</text>
<text class="s" x="65.30" y="34.10" font-size="7.2" text-anchor="start" >The calculation results of M2</text>
<line x1="41.20" y1="95.50" x2="61.80" y2="95.50" stroke="#3c3c3c" stroke-width="1.25"/>
<line x1="41.20" y1="104.50" x2="61.80" y2="104.50" stroke="#f33b3b" stroke-width="1.25"/>
<text class="s" x="64.60" y="98.10" font-size="7.2" text-anchor="start" >The calculation results of M1</text>
<text class="s" x="64.60" y="107.10" font-size="7.2" text-anchor="start" >The calculation results of M2</text>
<line x1="41.30" y1="163.00" x2="62.20" y2="163.00" stroke="#3c3c3c" stroke-width="1.25"/>
<line x1="41.30" y1="172.10" x2="62.20" y2="172.10" stroke="#f33b3b" stroke-width="1.25"/>
<text class="s" x="65.10" y="165.60" font-size="7.2" text-anchor="start" >The calculation results of M1</text>
<text class="s" x="65.10" y="174.70" font-size="7.2" text-anchor="start" >The calculation results of M2</text>
<text class="r" x="180.00" y="22.50" font-size="7.8" text-anchor="start" >T1=10 ppm</text>
<text class="r" x="180.00" y="31.60" font-size="7.8" text-anchor="start" >T2=10 ppm</text>
<text class="r" x="180.00" y="93.60" font-size="7.8" text-anchor="start" >T1=10 ppm</text>
<text class="r" x="180.00" y="102.80" font-size="7.8" text-anchor="start" >T2=50 ppm</text>
<text class="r" x="180.00" y="165.20" font-size="7.8" text-anchor="start" >T1=10 ppm</text>
<text class="r" x="180.00" y="174.30" font-size="7.8" text-anchor="start" >T2=100 ppm</text>
<text class="s t" x="37.80" y="219.80" font-size="8.3" text-anchor="middle" >6619</text>
<text class="s t" x="89.77" y="219.80" font-size="8.3" text-anchor="middle" >6620</text>
<text class="s t" x="141.75" y="219.80" font-size="8.3" text-anchor="middle" >6621</text>
<text class="s t" x="193.73" y="219.80" font-size="8.3" text-anchor="middle" >6622</text>
<text class="s t" x="245.70" y="219.80" font-size="8.3" text-anchor="middle" >6623</text>
<text class="s a" transform="translate(141.3,234.0)" x="0" y="0" font-size="9.45" text-anchor="middle">Laser wavenumber (cm<tspan dy="-4.4" font-size="7.2">&#8722;1</tspan><tspan dy="4.4">)</tspan></text>
<text class="s a" transform="translate(15.0,111.5) rotate(-90)" x="0" y="0" font-size="9.3" text-anchor="middle">Light intensity (a.u.)</text>
<text class="r p" x="131.70" y="250.30" font-size="10.8" text-anchor="middle" >(a)</text>
<line x1="308.50" y1="11.80" x2="511.40" y2="11.80" stroke="#606060" stroke-width="1"/>
<line x1="308.50" y1="208.10" x2="511.40" y2="208.10" stroke="#606060" stroke-width="1"/>
<line x1="308.50" y1="11.80" x2="308.50" y2="208.10" stroke="#606060" stroke-width="1"/>
<line x1="511.40" y1="11.80" x2="511.40" y2="208.10" stroke="#ff7070" stroke-width="1"/>
<line x1="308.50" y1="208.10" x2="308.50" y2="206.10" stroke="#606060" stroke-width="1"/>
<line x1="308.50" y1="11.80" x2="308.50" y2="13.80" stroke="#606060" stroke-width="1"/>
<text class="s t" x="308.80" y="219.60" font-size="8.3" text-anchor="middle" >0</text>
<line x1="349.08" y1="208.10" x2="349.08" y2="206.10" stroke="#606060" stroke-width="1"/>
<line x1="349.08" y1="11.80" x2="349.08" y2="13.80" stroke="#606060" stroke-width="1"/>
<text class="s t" x="349.38" y="219.60" font-size="8.3" text-anchor="middle" >50</text>
<line x1="389.66" y1="208.10" x2="389.66" y2="206.10" stroke="#606060" stroke-width="1"/>
<line x1="389.66" y1="11.80" x2="389.66" y2="13.80" stroke="#606060" stroke-width="1"/>
<text class="s t" x="389.96" y="219.60" font-size="8.3" text-anchor="middle" >100</text>
<line x1="430.24" y1="208.10" x2="430.24" y2="206.10" stroke="#606060" stroke-width="1"/>
<line x1="430.24" y1="11.80" x2="430.24" y2="13.80" stroke="#606060" stroke-width="1"/>
<text class="s t" x="430.54" y="219.60" font-size="8.3" text-anchor="middle" >150</text>
<line x1="470.82" y1="208.10" x2="470.82" y2="206.10" stroke="#606060" stroke-width="1"/>
<line x1="470.82" y1="11.80" x2="470.82" y2="13.80" stroke="#606060" stroke-width="1"/>
<text class="s t" x="471.12" y="219.60" font-size="8.3" text-anchor="middle" >200</text>
<line x1="511.40" y1="208.10" x2="511.40" y2="206.10" stroke="#606060" stroke-width="1"/>
<line x1="511.40" y1="11.80" x2="511.40" y2="13.80" stroke="#606060" stroke-width="1"/>
<text class="s t" x="511.70" y="219.60" font-size="8.3" text-anchor="middle" >250</text>
<line x1="308.50" y1="208.10" x2="310.50" y2="208.10" stroke="#606060" stroke-width="1"/>
<text class="s t" x="304.10" y="211.70" font-size="8.3" text-anchor="end" >0.13</text>
<line x1="308.50" y1="183.56" x2="310.50" y2="183.56" stroke="#606060" stroke-width="1"/>
<text class="s t" x="304.10" y="187.16" font-size="8.3" text-anchor="end" >0.14</text>
<line x1="308.50" y1="159.03" x2="310.50" y2="159.03" stroke="#606060" stroke-width="1"/>
<text class="s t" x="304.10" y="162.62" font-size="8.3" text-anchor="end" >0.15</text>
<line x1="308.50" y1="134.49" x2="310.50" y2="134.49" stroke="#606060" stroke-width="1"/>
<text class="s t" x="304.10" y="138.09" font-size="8.3" text-anchor="end" >0.16</text>
<line x1="308.50" y1="109.95" x2="310.50" y2="109.95" stroke="#606060" stroke-width="1"/>
<text class="s t" x="304.10" y="113.55" font-size="8.3" text-anchor="end" >0.17</text>
<line x1="308.50" y1="85.41" x2="310.50" y2="85.41" stroke="#606060" stroke-width="1"/>
<text class="s t" x="304.10" y="89.01" font-size="8.3" text-anchor="end" >0.18</text>
<line x1="308.50" y1="60.88" x2="310.50" y2="60.88" stroke="#606060" stroke-width="1"/>
<text class="s t" x="304.10" y="64.47" font-size="8.3" text-anchor="end" >0.19</text>
<line x1="308.50" y1="36.34" x2="310.50" y2="36.34" stroke="#606060" stroke-width="1"/>
<text class="s t" x="304.10" y="39.94" font-size="8.3" text-anchor="end" >0.2</text>
<line x1="308.50" y1="11.80" x2="310.50" y2="11.80" stroke="#606060" stroke-width="1"/>
<text class="s t" x="304.10" y="15.40" font-size="8.3" text-anchor="end" >0.21</text>
<line x1="511.40" y1="208.10" x2="509.40" y2="208.10" stroke="#f33b3b" stroke-width="1"/>
<text class="s t" x="515.00" y="211.60" font-size="8.5" text-anchor="start" style="fill:#ff0a0a;stroke:#ff0a0a" >0</text>
<line x1="511.40" y1="175.38" x2="509.40" y2="175.38" stroke="#f33b3b" stroke-width="1"/>
<text class="s t" x="515.00" y="178.88" font-size="8.5" text-anchor="start" style="fill:#ff0a0a;stroke:#ff0a0a" >0.01</text>
<line x1="511.40" y1="142.67" x2="509.40" y2="142.67" stroke="#f33b3b" stroke-width="1"/>
<text class="s t" x="515.00" y="146.17" font-size="8.5" text-anchor="start" style="fill:#ff0a0a;stroke:#ff0a0a" >0.02</text>
<line x1="511.40" y1="109.95" x2="509.40" y2="109.95" stroke="#f33b3b" stroke-width="1"/>
<text class="s t" x="515.00" y="113.45" font-size="8.5" text-anchor="start" style="fill:#ff0a0a;stroke:#ff0a0a" >0.03</text>
<line x1="511.40" y1="77.23" x2="509.40" y2="77.23" stroke="#f33b3b" stroke-width="1"/>
<text class="s t" x="515.00" y="80.73" font-size="8.5" text-anchor="start" style="fill:#ff0a0a;stroke:#ff0a0a" >0.04</text>
<line x1="511.40" y1="44.52" x2="509.40" y2="44.52" stroke="#f33b3b" stroke-width="1"/>
<text class="s t" x="515.00" y="48.02" font-size="8.5" text-anchor="start" style="fill:#ff0a0a;stroke:#ff0a0a" >0.05</text>
<line x1="511.40" y1="11.80" x2="509.40" y2="11.80" stroke="#f33b3b" stroke-width="1"/>
<text class="s t" x="515.00" y="15.30" font-size="8.5" text-anchor="start" style="fill:#ff0a0a;stroke:#ff0a0a" >0.06</text>
<polyline points="316.45,186.94 316.66,184.24 316.87,181.63 317.07,179.12 317.28,176.69 317.48,174.35 317.69,172.09 317.90,169.90 318.10,167.78 318.31,165.73 318.51,163.75 318.72,161.83 318.93,159.96 319.13,158.15 319.34,156.40 319.54,154.69 319.75,153.04 319.96,151.43 320.16,149.87 320.37,148.35 320.57,146.87 320.78,145.43 320.98,144.03 321.19,142.66 321.40,141.33 321.60,140.03 321.81,138.77 322.01,137.54 322.22,136.33 322.43,135.16 322.63,134.01 322.84,132.89 323.04,131.80 323.25,130.73 323.46,129.69 323.66,128.67 323.87,127.67 324.07,126.69 324.28,125.74 324.49,124.81 324.69,123.89 324.90,122.99 325.10,122.12 325.31,121.26 325.52,120.42 325.72,119.59 325.93,118.78 326.13,117.99 326.34,117.21 326.55,116.45 326.75,115.70 326.96,114.97 327.16,114.25 327.37,113.54 327.58,112.85 327.78,112.17 327.99,111.50 328.19,110.84 328.40,110.20 328.61,109.57 328.81,108.94 329.02,108.33 329.22,107.73 329.43,107.14 329.64,106.56 329.84,105.98 330.05,105.42 330.25,104.87 330.46,104.33 330.67,103.79 330.87,103.26 331.08,102.74 331.28,102.23 331.49,101.73 331.70,101.24 331.90,100.75 332.11,100.27 332.31,99.80 332.52,99.33 332.73,98.87 332.93,98.42 333.14,97.97 333.34,97.54 333.55,97.10 333.76,96.68 333.96,96.26 334.17,95.84 334.37,95.43 334.58,95.03 334.78,94.63 334.99,94.24 335.20,93.85 335.40,93.47 335.61,93.10 335.81,92.73 336.02,92.36 336.23,92.00 336.43,91.64 336.64,91.29 336.84,90.94 337.05,90.60 337.26,90.26 337.46,89.92 337.67,89.59 337.87,89.27 338.08,88.95 338.29,88.63 338.49,88.31 338.70,88.00 338.90,87.69 339.11,87.39 339.32,87.09 339.52,86.80 339.73,86.50 339.93,86.21 340.14,85.93 340.35,85.65 340.55,85.37 340.76,85.09 340.96,84.82 341.37,84.29 342.52,82.85 343.68,81.49 344.83,80.21 345.98,79.01 347.14,77.87 348.29,76.78 349.44,75.76 350.60,74.78 351.75,73.86 352.90,72.97 354.06,72.13 355.21,71.33 356.36,70.56 357.52,69.82 358.67,69.12 359.82,68.44 360.98,67.79 362.13,67.17 363.28,66.57 364.44,66.00 365.59,65.44 366.74,64.91 367.90,64.39 369.05,63.90 370.20,63.42 371.36,62.96 372.51,62.51 373.66,62.08 374.82,61.66 375.97,61.25 377.12,60.86 378.28,60.48 379.43,60.11 380.58,59.75 381.73,59.41 382.89,59.07 384.04,58.74 385.19,58.42 386.35,58.11 387.50,57.81 388.65,57.52 389.81,57.24 390.96,56.96 392.11,56.69 393.27,56.42 394.42,56.17 395.57,55.92 396.73,55.67 397.88,55.43 399.03,55.20 400.19,54.97 401.34,54.75 402.49,54.53 403.65,54.32 404.80,54.12 405.95,53.91 407.11,53.71 408.26,53.52 409.41,53.33 410.57,53.15 411.72,52.96 412.87,52.79 414.03,52.61 415.18,52.44 416.33,52.27 417.49,52.11 418.64,51.95 419.79,51.79 420.95,51.64 422.10,51.49 423.25,51.34 424.41,51.19 425.56,51.05 426.71,50.91 427.87,50.77 429.02,50.64 430.17,50.50 431.33,50.37 432.48,50.24 433.63,50.12 434.79,50.00 435.94,49.87 437.09,49.75 438.25,49.64 439.40,49.52 440.55,49.41 441.71,49.30 442.86,49.19 444.01,49.08 445.17,48.97 446.32,48.87 447.47,48.76 448.63,48.66 449.78,48.56 450.93,48.46 452.09,48.37 453.24,48.27 454.39,48.18 455.55,48.08 456.70,47.99 457.85,47.90 459.01,47.81 460.16,47.73 461.31,47.64 462.47,47.56 463.62,47.47 464.77,47.39 465.93,47.31 467.08,47.23 468.23,47.15 469.39,47.07 470.54,46.99 471.69,46.92 472.84,46.84 474.00,46.77 475.15,46.70 476.30,46.62 477.46,46.55 478.61,46.48" fill="none" stroke="#3c3c3c" stroke-width="1.25" stroke-linejoin="round"/>
<polyline points="316.45,49.78 316.66,52.70 316.87,55.51 317.07,58.22 317.28,60.84 317.48,63.37 317.69,65.81 317.90,68.18 318.10,70.47 318.31,72.68 318.51,74.83 318.72,76.91 318.93,78.93 319.13,80.88 319.34,82.78 319.54,84.62 319.75,86.42 319.96,88.16 320.16,89.85 320.37,91.49 320.57,93.09 320.78,94.65 320.98,96.17 321.19,97.64 321.40,99.08 321.60,100.48 321.81,101.85 322.01,103.18 322.22,104.48 322.43,105.75 322.63,106.99 322.84,108.20 323.04,109.38 323.25,110.53 323.46,111.66 323.66,112.76 323.87,113.83 324.07,114.89 324.28,115.92 324.49,116.92 324.69,117.91 324.90,118.87 325.10,119.82 325.31,120.74 325.52,121.65 325.72,122.53 325.93,123.40 326.13,124.26 326.34,125.09 326.55,125.91 326.75,126.71 326.96,127.50 327.16,128.27 327.37,129.03 327.58,129.77 327.78,130.50 327.99,131.22 328.19,131.92 328.40,132.61 328.61,133.29 328.81,133.96 329.02,134.61 329.22,135.25 329.43,135.89 329.64,136.51 329.84,137.12 330.05,137.72 330.25,138.31 330.46,138.89 330.67,139.46 330.87,140.02 331.08,140.57 331.28,141.12 331.49,141.65 331.70,142.18 331.90,142.70 332.11,143.21 332.31,143.71 332.52,144.20 332.73,144.69 332.93,145.17 333.14,145.64 333.34,146.11 333.55,146.57 333.76,147.02 333.96,147.47 334.17,147.90 334.37,148.34 334.58,148.76 334.78,149.18 334.99,149.60 335.20,150.01 335.40,150.41 335.61,150.81 335.81,151.20 336.02,151.59 336.23,151.97 336.43,152.34 336.64,152.71 336.84,153.08 337.05,153.44 337.26,153.80 337.46,154.15 337.67,154.50 337.87,154.84 338.08,155.18 338.29,155.51 338.49,155.85 338.70,156.17 338.90,156.49 339.11,156.81 339.32,157.13 339.52,157.44 339.73,157.74 339.93,158.05 340.14,158.34 340.35,158.64 340.55,158.93 340.76,159.22 340.96,159.51 341.37,160.06 342.52,161.56 343.68,162.97 344.83,164.30 345.98,165.55 347.14,166.73 348.29,167.85 349.44,168.91 350.60,169.91 351.75,170.86 352.90,171.77 354.06,172.63 355.21,173.45 356.36,174.23 357.52,174.98 358.67,175.70 359.82,176.38 360.98,177.04 362.13,177.67 363.28,178.27 364.44,178.85 365.59,179.41 366.74,179.94 367.90,180.46 369.05,180.95 370.20,181.43 371.36,181.89 372.51,182.34 373.66,182.77 374.82,183.18 375.97,183.58 377.12,183.97 378.28,184.35 379.43,184.71 380.58,185.07 381.73,185.41 382.89,185.74 384.04,186.06 385.19,186.37 386.35,186.68 387.50,186.97 388.65,187.26 389.81,187.53 390.96,187.81 392.11,188.07 393.27,188.32 394.42,188.57 395.57,188.82 396.73,189.05 397.88,189.28 399.03,189.51 400.19,189.73 401.34,189.94 402.49,190.15 403.65,190.35 404.80,190.55 405.95,190.75 407.11,190.94 408.26,191.12 409.41,191.30 410.57,191.48 411.72,191.65 412.87,191.82 414.03,191.99 415.18,192.15 416.33,192.31 417.49,192.47 418.64,192.62 419.79,192.77 420.95,192.91 422.10,193.06 423.25,193.20 424.41,193.34 425.56,193.47 426.71,193.60 427.87,193.73 429.02,193.86 430.17,193.98 431.33,194.11 432.48,194.23 433.63,194.35 434.79,194.46 435.94,194.58 437.09,194.69 438.25,194.80 439.40,194.90 440.55,195.01 441.71,195.12 442.86,195.22 444.01,195.32 445.17,195.42 446.32,195.51 447.47,195.61 448.63,195.70 449.78,195.80 450.93,195.89 452.09,195.98 453.24,196.07 454.39,196.15 455.55,196.24 456.70,196.32 457.85,196.41 459.01,196.49 460.16,196.57 461.31,196.65 462.47,196.72 463.62,196.80 464.77,196.88 465.93,196.95 467.08,197.02 468.23,197.10 469.39,197.17 470.54,197.24 471.69,197.31 472.84,197.38 474.00,197.44 475.15,197.51 476.30,197.58 477.46,197.64 478.61,197.70" fill="none" stroke="#f33b3b" stroke-width="1.25" stroke-linejoin="round"/>
<line x1="318.20" y1="24.40" x2="339.40" y2="24.40" stroke="#3c3c3c" stroke-width="1.25"/>
<line x1="318.20" y1="33.90" x2="339.40" y2="33.90" stroke="#f33b3b" stroke-width="1.25"/>
<text class="s" x="342.20" y="27.10" font-size="7.6" text-anchor="start" >The ripple amplitude of M1</text>
<text class="s" x="342.20" y="36.60" font-size="7.6" text-anchor="start" >The ripple amplitude of M2</text>
<text class="s a" transform="translate(409.6,232.2) scale(1,1.04)" x="0" y="0" font-size="9.75" text-anchor="middle">The transmission loss of M2 (ppm)</text>
<text class="s a" transform="translate(283.1,110.3) rotate(-90)" x="0" y="0" font-size="9.7" text-anchor="middle">Amplitude (a.u.)</text>
<text class="s a" transform="translate(543.4,110.1) rotate(-90)" x="0" y="0" font-size="9.7" text-anchor="middle" style="fill:#ff0a0a;stroke:#ff0a0a">Amplitude (a.u)</text>
<text class="r p" x="409.60" y="250.30" font-size="10.8" text-anchor="middle" >(b)</text>
</svg>
</body></html>
